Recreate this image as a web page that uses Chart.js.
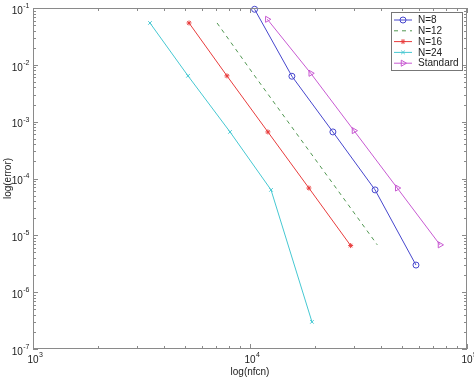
<!DOCTYPE html>
<html><head><meta charset="utf-8">
<script src="https://cdn.jsdelivr.net/npm/chart.js@4"></script>
<style>html,body{margin:0;padding:0;background:#fff}canvas{display:block}</style>
</head><body>
<canvas id="c" width="474" height="377" style="width:474px;height:377px"></canvas>
<script>
// ---- data ----
const seriesNames = ['N=8', 'N=12', 'N=16', 'N=24', 'Standard'];
const nfcnN8 = [10500, 15600, 24100, 37700, 58200];
const errN8  = [0.095, 0.0063, 0.00066, 6.3e-5, 3.0e-6];
const nfcnN12 = [7050, 10360, 16180, 25000, 38600];
const errN12  = [0.0545, 0.0069, 0.00066, 6.7e-5, 6.8e-6];
const nfcnN16 = [5236, 7830, 12090, 18680, 29100];
const errN16  = [0.0545, 0.0064, 0.00066, 6.8e-5, 6.6e-6];
const nfcnN24 = [3460, 5180, 8090, 12500, 19300];
const errN24  = [0.0545, 0.0064, 0.00066, 6.3e-5, 3.0e-7];
const nfcnStd = [12020, 19050, 30150, 47700, 75100];
const errStd  = [0.0633, 0.0071, 0.000695, 6.8e-5, 6.8e-6];
const xTickExponents = [3, 4, 5];
const yTickExponents = [-1, -2, -3, -4, -5, -6, -7];
const xTitle = 'log(nfcn)';
const yTitle = 'log(error)';

const pts = (xs, ys) => xs.map((x, i) => ({x: x, y: ys[i]}));

const FONT = '"Liberation Sans", Arial, Helvetica, sans-serif';
const AXIS_COLOR = '#8a8a8a';

const datasets = [
  {label: seriesNames[0], data: pts(nfcnN8, errN8), borderColor: 'rgb(70,70,205)', pointStyle: 'circle', pointRadius: 3, rotation: 0},
  {label: seriesNames[1], data: pts(nfcnN12, errN12), borderColor: 'rgb(80,150,80)', borderDash: [4, 4], pointRadius: 0},
  {label: seriesNames[2], data: pts(nfcnN16, errN16), borderColor: 'rgb(232,60,60)', pointStyle: 'star', pointRadius: 2.5},
  {label: seriesNames[3], data: pts(nfcnN24, errN24), borderColor: 'rgb(70,200,210)', pointStyle: 'crossRot', pointRadius: 2.5},
  {label: seriesNames[4], data: pts(nfcnStd, errStd), borderColor: 'rgb(200,90,210)', pointStyle: 'triangle', pointRadius: 3.5, rotation: 90}
].map(d => Object.assign({
  borderWidth: 1, pointBorderColor: d.borderColor, pointBackgroundColor: 'rgba(0,0,0,0)',
  pointBorderWidth: 1, pointRotation: d.rotation || 0, tension: 0, fill: false, clip: false
}, d));

function drawPow(ctx, exp, x, y, mode) {
  const base = '10';
  const e = String(exp).replace('-', '-');
  ctx.font = '10px ' + FONT;
  const bw = ctx.measureText(base).width;
  ctx.font = '7px ' + FONT;
  const ew = ctx.measureText(e).width;
  ctx.fillStyle = '#222';
  ctx.textBaseline = 'middle';
  let bx;
  if (mode === 'x') { bx = x - bw / 2; }
  else { bx = x - bw - ew - 1; }
  ctx.font = '10px ' + FONT;
  ctx.textAlign = 'left';
  ctx.fillText(base, bx, y);
  ctx.font = '7px ' + FONT;
  ctx.fillText(e, bx + bw + 0.5, y - 5);
}

const framePlugin = {
  id: 'frame',
  afterDatasetsDraw(chart) {
    const {ctx, chartArea: a, scales: {x, y}} = chart;
    ctx.save();
    ctx.strokeStyle = AXIS_COLOR;
    ctx.lineWidth = 1;
    ctx.strokeRect(Math.round(a.left) + 0.5, Math.round(a.top) + 0.5, Math.round(a.right - a.left) - 1, Math.round(a.bottom - a.top) - 1);
    ctx.beginPath();
    for (let n = 3; n < 5; n++) {
      for (let m = 1; m <= 9; m++) {
        const v = m * Math.pow(10, n);
        if (m === 1) continue;
        const px = Math.round(x.getPixelForValue(v)) + 0.5;
        const L = 3;
        ctx.moveTo(px, a.bottom); ctx.lineTo(px, a.bottom - L);
        ctx.moveTo(px, a.top); ctx.lineTo(px, a.top + L);
      }
    }
    xTickExponents.forEach(n => {
      const px = Math.round(x.getPixelForValue(Math.pow(10, n))) + 0.5;
      ctx.moveTo(px, a.bottom); ctx.lineTo(px, a.bottom - 5);
      ctx.moveTo(px, a.top); ctx.lineTo(px, a.top + 5);
    });
    for (let n = -7; n < -1; n++) {
      for (let m = 2; m <= 9; m++) {
        const v = m * Math.pow(10, n);
        const py = Math.round(y.getPixelForValue(v)) + 0.5;
        ctx.moveTo(a.left, py); ctx.lineTo(a.left + 3, py);
        ctx.moveTo(a.right, py); ctx.lineTo(a.right - 3, py);
      }
    }
    yTickExponents.forEach(n => {
      const py = Math.round(y.getPixelForValue(Math.pow(10, n))) + 0.5;
      ctx.moveTo(a.left, py); ctx.lineTo(a.left + 5, py);
      ctx.moveTo(a.right, py); ctx.lineTo(a.right - 5, py);
    });
    ctx.stroke();

    // tick labels
    xTickExponents.forEach(n => {
      drawPow(ctx, n, x.getPixelForValue(Math.pow(10, n)), a.bottom + 11, 'x');
    });
    yTickExponents.forEach(n => {
      drawPow(ctx, n, 30, y.getPixelForValue(Math.pow(10, n)) + 3, 'y');
    });
    // titles
    ctx.fillStyle = '#222';
    ctx.font = '10px ' + FONT;
    ctx.textAlign = 'center';
    ctx.textBaseline = 'middle';
    ctx.fillText(xTitle, (a.left + a.right) / 2, 372);
    ctx.translate(8, (a.top + a.bottom) / 2);
    ctx.rotate(-Math.PI / 2);
    ctx.fillText(yTitle, 0, 0);
    ctx.restore();
  },
  afterDraw(chart) {
    const ctx = chart.ctx;
    ctx.save();
    const bx = 391.5, by = 12.5, bw = 71, bh = 58;
    ctx.fillStyle = '#fff';
    ctx.fillRect(bx, by, bw, bh);
    ctx.strokeStyle = '#777';
    ctx.lineWidth = 1;
    ctx.strokeRect(bx, by, bw, bh);
    chart.data.datasets.forEach((d, i) => {
      const ry = 20 + i * 10.8;
      ctx.save();
      ctx.strokeStyle = d.borderColor;
      ctx.lineWidth = 1;
      ctx.setLineDash(d.borderDash || []);
      ctx.beginPath();
      ctx.moveTo(394, ry); ctx.lineTo(412, ry);
      ctx.stroke();
      ctx.restore();
      if (d.pointRadius > 0 && Chart.helpers && Chart.helpers.drawPoint) {
        ctx.save();
        ctx.strokeStyle = d.borderColor;
        ctx.fillStyle = 'rgba(0,0,0,0)';
        ctx.lineWidth = 1;
        Chart.helpers.drawPoint(ctx, {pointStyle: d.pointStyle, radius: d.pointRadius, rotation: d.pointRotation, borderWidth: 1}, 403, ry);
        ctx.restore();
      }
      ctx.fillStyle = '#222';
      ctx.font = '10px ' + FONT;
      ctx.textAlign = 'left';
      ctx.textBaseline = 'middle';
      ctx.fillText(d.label, 418, ry + 0.5);
    });
    ctx.restore();
  }
};

new Chart(document.getElementById('c'), {
  type: 'line',
  data: {datasets: datasets},
  options: {
    responsive: false,
    animation: false,
    devicePixelRatio: 1,
    layout: {padding: {left: 33, top: 8, right: 7, bottom: 28}},
    plugins: {legend: {display: false}, tooltip: {enabled: false}},
    scales: {
      x: {type: 'logarithmic', min: 1000, max: 100000, display: false},
      y: {type: 'logarithmic', min: 1e-7, max: 1e-1, display: false}
    }
  },
  plugins: [framePlugin]
});
</script>
</body></html>
